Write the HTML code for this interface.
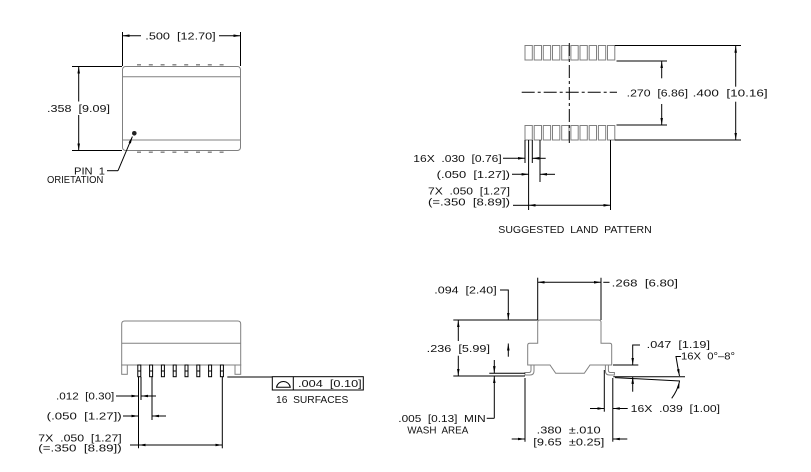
<!DOCTYPE html>
<html><head><meta charset="utf-8"><style>
html,body{margin:0;padding:0;background:#fff;}
svg{display:block;}
text{font-family:"Liberation Sans",sans-serif;font-size:10.5px;fill:#111;white-space:pre;}
</style></head><body>
<svg width="811" height="472" viewBox="0 0 811 472" xmlns="http://www.w3.org/2000/svg" xml:space="preserve">
<defs>
<marker id="a" viewBox="0 0 7 2.6" refX="7" refY="1.3" markerWidth="7" markerHeight="2.6" markerUnits="userSpaceOnUse" orient="auto-start-reverse"><path d="M0,0L7,1.3L0,2.6z" fill="#000"/></marker>
</defs>
<rect width="811" height="472" fill="#fff"/>

<!-- ===== TOP-LEFT VIEW ===== -->
<g fill="none" stroke="#808080" stroke-width="1">
<rect x="122.5" y="66.5" width="118" height="84" rx="3"/>
<line x1="122.5" y1="76.8" x2="240.5" y2="76.8"/>
<line x1="122.5" y1="140" x2="240.5" y2="140"/>
</g>
<g stroke="#808080" stroke-width="1.4">
<line x1="137" y1="64.8" x2="141" y2="64.8"/><line x1="148.8" y1="64.8" x2="152.8" y2="64.8"/><line x1="160.6" y1="64.8" x2="164.6" y2="64.8"/><line x1="172.4" y1="64.8" x2="176.4" y2="64.8"/><line x1="184.2" y1="64.8" x2="188.2" y2="64.8"/><line x1="196" y1="64.8" x2="200" y2="64.8"/><line x1="207.8" y1="64.8" x2="211.8" y2="64.8"/><line x1="219.6" y1="64.8" x2="223.6" y2="64.8"/>
<line x1="137" y1="152.2" x2="141" y2="152.2"/><line x1="148.8" y1="152.2" x2="152.8" y2="152.2"/><line x1="160.6" y1="152.2" x2="164.6" y2="152.2"/><line x1="172.4" y1="152.2" x2="176.4" y2="152.2"/><line x1="184.2" y1="152.2" x2="188.2" y2="152.2"/><line x1="196" y1="152.2" x2="200" y2="152.2"/><line x1="207.8" y1="152.2" x2="211.8" y2="152.2"/><line x1="219.6" y1="152.2" x2="223.6" y2="152.2"/>
</g>
<circle cx="134.3" cy="133.3" r="2.3" fill="#222"/>
<g stroke="#000" stroke-width="1" fill="none">
<polyline points="107,170.7 118,170.7"/>
<line x1="118" y1="170.7" x2="132.4" y2="136.6" marker-end="url(#a)"/>
<line x1="122.5" y1="32" x2="122.5" y2="66"/>
<line x1="240.5" y1="32" x2="240.5" y2="66"/>
<line x1="141" y1="35.7" x2="122.5" y2="35.7" marker-end="url(#a)"/>
<line x1="219" y1="35.7" x2="240.5" y2="35.7" marker-end="url(#a)"/>
<line x1="72" y1="66.5" x2="122" y2="66.5"/>
<line x1="72" y1="150.5" x2="122" y2="150.5"/>
<line x1="78.7" y1="101.5" x2="78.7" y2="66.5" marker-end="url(#a)"/>
<line x1="78.7" y1="115" x2="78.7" y2="150.5" marker-end="url(#a)"/>
</g>
<text x="145.3" y="39.5" textLength="70.4" lengthAdjust="spacingAndGlyphs">.500  [12.70]</text>
<text x="47" y="112" textLength="63" lengthAdjust="spacingAndGlyphs">.358  [9.09]</text>
<text x="74" y="174.3" textLength="31" lengthAdjust="spacingAndGlyphs">PIN  1</text>
<text x="47" y="183.2" textLength="56.3" lengthAdjust="spacingAndGlyphs">ORIETATION</text>

<!-- ===== LAND PATTERN ===== -->
<g fill="none" stroke="#808080" stroke-width="1">
<rect x="525" y="45.5" width="7.3" height="14.5"/><rect x="534.2" y="45.5" width="7.3" height="14.5"/><rect x="543.3" y="45.5" width="7.3" height="14.5"/><rect x="552.5" y="45.5" width="7.3" height="14.5"/><rect x="561.7" y="45.5" width="7.3" height="14.5"/><rect x="570.9" y="45.5" width="7.3" height="14.5"/><rect x="580" y="45.5" width="7.3" height="14.5"/><rect x="589.2" y="45.5" width="7.3" height="14.5"/><rect x="598.4" y="45.5" width="7.3" height="14.5"/><rect x="607.5" y="45.5" width="7.3" height="14.5"/>
<rect x="525" y="125.5" width="7.3" height="14.5"/><rect x="534.2" y="125.5" width="7.3" height="14.5"/><rect x="543.3" y="125.5" width="7.3" height="14.5"/><rect x="552.5" y="125.5" width="7.3" height="14.5"/><rect x="561.7" y="125.5" width="7.3" height="14.5"/><rect x="570.9" y="125.5" width="7.3" height="14.5"/><rect x="580" y="125.5" width="7.3" height="14.5"/><rect x="589.2" y="125.5" width="7.3" height="14.5"/><rect x="598.4" y="125.5" width="7.3" height="14.5"/><rect x="607.5" y="125.5" width="7.3" height="14.5"/>
</g>
<g stroke="#000" stroke-width="1" fill="none">
<line x1="614.8" y1="45.5" x2="741" y2="45.5"/>
<line x1="616.5" y1="61" x2="667" y2="61"/>
<line x1="616.5" y1="125" x2="667" y2="125"/>
<line x1="614.8" y1="140" x2="741" y2="140"/>
<line x1="661.7" y1="78.3" x2="661.7" y2="61.2" marker-end="url(#a)"/>
<line x1="661.7" y1="104" x2="661.7" y2="124.8" marker-end="url(#a)"/>
<line x1="735.7" y1="86.7" x2="735.7" y2="45.8" marker-end="url(#a)"/>
<line x1="735.7" y1="101.7" x2="735.7" y2="139.8" marker-end="url(#a)"/>
<line x1="521.7" y1="92.3" x2="617" y2="92.3" stroke-dasharray="13,3,3,3"/>
<line x1="569.3" y1="43" x2="569.3" y2="143" stroke-dasharray="13,3,3,3"/>
<line x1="525" y1="140" x2="525" y2="163"/>
<line x1="528.6" y1="140" x2="528.6" y2="210"/>
<line x1="532.3" y1="140" x2="532.3" y2="163"/>
<line x1="540" y1="140" x2="540" y2="182"/>
<line x1="610.5" y1="140" x2="610.5" y2="210"/>
<line x1="503" y1="158.3" x2="525" y2="158.3" marker-end="url(#a)"/>
<line x1="545.7" y1="158.3" x2="532.3" y2="158.3" marker-end="url(#a)"/>
<line x1="512" y1="174.3" x2="528.6" y2="174.3" marker-end="url(#a)"/>
<line x1="555" y1="174.3" x2="540" y2="174.3" marker-end="url(#a)"/>
<line x1="513" y1="205.3" x2="528.6" y2="205.3"/>
<line x1="528.6" y1="205.3" x2="610.5" y2="205.3" marker-start="url(#a)" marker-end="url(#a)"/>
</g>
<text x="626.7" y="96.3" textLength="61.3" lengthAdjust="spacingAndGlyphs">.270  [6.86]</text>
<text x="692.7" y="96.3" textLength="75" lengthAdjust="spacingAndGlyphs">.400  [10.16]</text>
<text x="413.3" y="162" textLength="88.4" lengthAdjust="spacingAndGlyphs">16X  .030  [0.76]</text>
<text x="436.7" y="178" textLength="73.3" lengthAdjust="spacingAndGlyphs">(.050  [1.27])</text>
<text x="428" y="194.3" textLength="82" lengthAdjust="spacingAndGlyphs">7X  .050  [1.27]</text>
<text x="428" y="205.3" textLength="82" lengthAdjust="spacingAndGlyphs">(=.350  [8.89])</text>
<text x="498.3" y="233" textLength="153.4" lengthAdjust="spacingAndGlyphs">SUGGESTED  LAND  PATTERN</text>

<!-- ===== BOTTOM-LEFT SIDE VIEW ===== -->
<g fill="none" stroke="#808080" stroke-width="1">
<path d="M121.7,365 L121.7,324 Q121.7,321 124.7,321 L237.7,321 Q240.7,321 240.7,324 L240.7,365 Z"/>
<line x1="121.7" y1="343.3" x2="240.7" y2="343.3"/>
<rect x="121.7" y="365" width="5.6" height="9.3"/>
<rect x="235" y="365" width="5.7" height="9.3"/>
</g>
<g fill="none" stroke="#000" stroke-width="1">
<rect x="137.8" y="365" width="3" height="11.7"/><line x1="137.8" y1="371" x2="140.8" y2="371"/>
<rect x="149.6" y="365" width="3" height="11.7"/><line x1="149.6" y1="371" x2="152.6" y2="371"/>
<rect x="161.4" y="365" width="3" height="11.7"/><line x1="161.4" y1="371" x2="164.4" y2="371"/>
<rect x="173.2" y="365" width="3" height="11.7"/><line x1="173.2" y1="371" x2="176.2" y2="371"/>
<rect x="185" y="365" width="3" height="11.7"/><line x1="185" y1="371" x2="188" y2="371"/>
<rect x="196.8" y="365" width="3" height="11.7"/><line x1="196.8" y1="371" x2="199.8" y2="371"/>
<rect x="208.6" y="365" width="3" height="11.7"/><line x1="208.6" y1="371" x2="211.6" y2="371"/>
<rect x="220.4" y="365" width="3" height="11.7"/><line x1="220.4" y1="371" x2="223.4" y2="371"/>
<line x1="138.5" y1="377" x2="138.5" y2="448.3"/>
<line x1="141" y1="377" x2="141" y2="400"/>
<line x1="152" y1="377" x2="152" y2="420"/>
<line x1="222.3" y1="377" x2="222.3" y2="448.3"/>
<line x1="116" y1="396" x2="138.5" y2="396" marker-end="url(#a)"/>
<line x1="156" y1="396" x2="141" y2="396" marker-end="url(#a)"/>
<line x1="123" y1="416" x2="138.5" y2="416" marker-end="url(#a)"/>
<line x1="166" y1="416" x2="152" y2="416" marker-end="url(#a)"/>
<line x1="130" y1="445" x2="138.5" y2="445"/>
<line x1="138.5" y1="445" x2="222.3" y2="445" marker-start="url(#a)" marker-end="url(#a)"/>
<line x1="227.3" y1="377" x2="272.3" y2="377"/>
<rect x="272.3" y="376.7" width="91" height="13.3"/>
<line x1="293.3" y1="376.7" x2="293.3" y2="390"/>
<path d="M276.5,387.3 A7,7 0 0 1 290.3,387.3 Z"/>
</g>
<text x="56" y="399.7" textLength="58.3" lengthAdjust="spacingAndGlyphs">.012  [0.30]</text>
<text x="46.7" y="419.7" textLength="75" lengthAdjust="spacingAndGlyphs">(.050  [1.27])</text>
<text x="38.3" y="441.3" textLength="83.4" lengthAdjust="spacingAndGlyphs">7X  .050  [1.27]</text>
<text x="38.3" y="451.5" textLength="83.4" lengthAdjust="spacingAndGlyphs">(=.350  [8.89])</text>
<text x="298" y="387.1" textLength="63.7" lengthAdjust="spacingAndGlyphs">.004  [0.10]</text>
<text x="276" y="403" textLength="72.3" lengthAdjust="spacingAndGlyphs">16  SURFACES</text>

<!-- ===== BOTTOM-RIGHT SIDE VIEW ===== -->
<g fill="none" stroke="#808080" stroke-width="1">
<path d="M537.7,343.3 L537.7,322.3 Q537.7,320 540,320 L598.7,320 Q601,320 601,322.3 L601,343.3 L609.7,343.3 Q611.7,343.3 611.7,345.3 L611.7,365 L590,365 L584.3,373.3 L555.7,373.3 L550,365 L527.7,365 L527.7,345.3 Q527.7,343.3 529.7,343.3 Z"/>
<path d="M534,365 L534,371 Q534,375 530,375 L525,375 L525,372.5 L529,372.5 Q531,372.5 531,370 L531,365"/>
<path d="M605.4,365 L605.4,371 Q605.4,375 609.4,375 L614.4,375 L614.4,372.5 L610.4,372.5 Q608.4,372.5 608.4,370 L608.4,365"/>
</g>
<g fill="none" stroke="#000" stroke-width="1">
<line x1="453.3" y1="376" x2="525" y2="376"/>
<line x1="489.3" y1="373.3" x2="525" y2="373.3"/>
<line x1="453.3" y1="320" x2="537.7" y2="320"/>
<line x1="458.3" y1="341" x2="458.3" y2="320.2" marker-end="url(#a)"/>
<line x1="458.3" y1="355.7" x2="458.3" y2="375.8" marker-end="url(#a)"/>
<polyline points="500,290 508.3,290 508.3,300"/>
<line x1="508.3" y1="300" x2="508.3" y2="319.8" marker-end="url(#a)"/>
<line x1="508.3" y1="356.7" x2="508.3" y2="343.5" marker-end="url(#a)"/>
<line x1="494.3" y1="360" x2="494.3" y2="373.1" marker-end="url(#a)"/>
<line x1="494.3" y1="418.3" x2="494.3" y2="376.2" marker-end="url(#a)"/>
<line x1="486.7" y1="418.3" x2="494.3" y2="418.3"/>
<line x1="537.7" y1="277.7" x2="537.7" y2="320"/>
<line x1="601" y1="277.7" x2="601" y2="320"/>
<line x1="537.7" y1="282.3" x2="601" y2="282.3" marker-start="url(#a)" marker-end="url(#a)"/>
<line x1="603.3" y1="282.3" x2="609.5" y2="282.3"/>
<line x1="525" y1="378" x2="525" y2="441.7"/>
<line x1="612.8" y1="378" x2="612.8" y2="441.7"/>
<line x1="511.7" y1="439" x2="525" y2="439" marker-end="url(#a)"/>
<line x1="627.3" y1="439" x2="612.8" y2="439" marker-end="url(#a)"/>
<line x1="604.3" y1="370" x2="604.3" y2="411.7"/>
<line x1="590" y1="408.5" x2="604.3" y2="408.5" marker-end="url(#a)"/>
<line x1="627.7" y1="408.5" x2="612.8" y2="408.5" marker-end="url(#a)"/>
<line x1="613" y1="365" x2="638.3" y2="365"/>
<polyline points="640,345 632.7,345 632.7,350"/>
<line x1="632.7" y1="350" x2="632.7" y2="364.8" marker-end="url(#a)"/>
<line x1="632.7" y1="391.7" x2="632.7" y2="376.9" marker-end="url(#a)"/>
<line x1="613.3" y1="376.7" x2="685" y2="376.7"/>
<line x1="615" y1="377.6" x2="680" y2="381"/>
<path d="M681,356.5 L676,356.5 Q677.5,366 679.5,376" marker-end="url(#a)"/>
<path d="M671.7,398.3 Q677.5,390.5 679.5,381.5" marker-end="url(#a)"/>
</g>
<text x="434.3" y="293.7" textLength="62.4" lengthAdjust="spacingAndGlyphs">.094  [2.40]</text>
<text x="611.7" y="286.7" textLength="66.3" lengthAdjust="spacingAndGlyphs">.268  [6.80]</text>
<text x="426.7" y="352" textLength="63.3" lengthAdjust="spacingAndGlyphs">.236  [5.99]</text>
<text x="398.3" y="422" textLength="87.4" lengthAdjust="spacingAndGlyphs">.005  [0.13]  MIN</text>
<text x="407.3" y="433.7" textLength="61" lengthAdjust="spacingAndGlyphs">WASH  AREA</text>
<text x="536.7" y="433.7" textLength="64" lengthAdjust="spacingAndGlyphs">.380  ±.010</text>
<text x="533.3" y="445.3" textLength="71" lengthAdjust="spacingAndGlyphs">[9.65  ±0.25]</text>
<text x="646.7" y="348" textLength="63.3" lengthAdjust="spacingAndGlyphs">.047  [1.19]</text>
<text x="681" y="359.3" textLength="54" lengthAdjust="spacingAndGlyphs">16X  0°–8°</text>
<text x="630.7" y="412" textLength="89.3" lengthAdjust="spacingAndGlyphs">16X  .039  [1.00]</text>
</svg>
</body></html>
